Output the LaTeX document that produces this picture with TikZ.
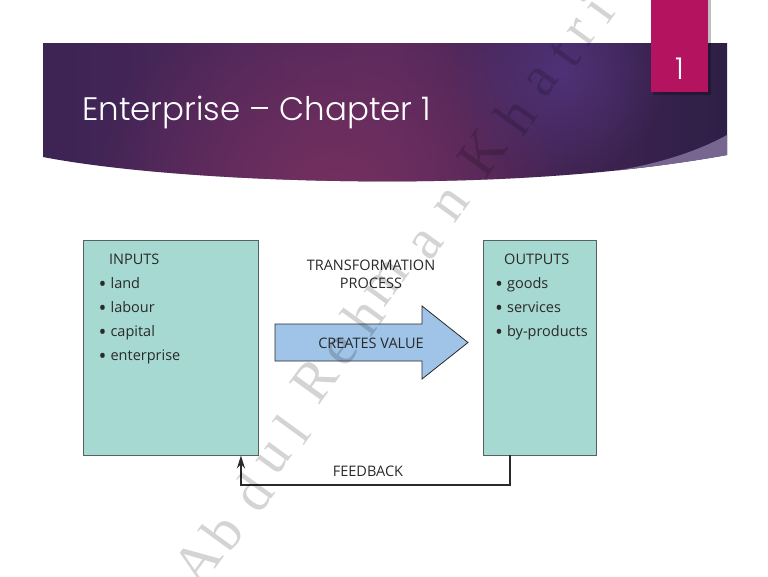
\documentclass[tikz,border=0pt]{standalone}
\usepackage{fontspec}
\setmainfont{Open Sans}
\newfontfamily\titlefont{Poppins Light}
\newfontfamily\markfont{Liberation Serif}
\usetikzlibrary{positioning,calc,arrows.meta,fadings}
\tikzfading[name=glowfade, inner color=transparent!0, outer color=transparent!100]
\definecolor{boxteal}{HTML}{A6D9D1}
\definecolor{boxline}{HTML}{56625F}
\definecolor{arrowblue}{HTML}{9FC4E7}
\definecolor{txtgray}{HTML}{2A2A2A}
\definecolor{tabpink}{HTML}{B3135F}
\definecolor{banleft}{HTML}{3C2454}
\definecolor{banmid}{HTML}{55295E}
\definecolor{banright}{HTML}{2E1F46}
\definecolor{banglow}{HTML}{76305F}
\definecolor{banviolet}{HTML}{4F3277}
\definecolor{banstrip}{HTML}{77668F}
\newcommand{\dotitem}{\raisebox{-3.4pt}{\fontsize{21}{18}\selectfont\textbullet}\hspace{4pt}}
\tikzset{x=1pt, y=-1pt, semithick,
  block/.style={draw=boxline, fill=boxteal, line width=0.9pt, inner sep=0pt, minimum height=215},
  lbl/.style={text=txtgray, inner sep=0pt, font=\fontsize{14.5}{18}\selectfont},
  item/.style={lbl, anchor=base west},
  valuearrow/.style={draw=txtgray, fill=arrowblue, line width=0.8pt},
  feedback/.style={draw=txtgray, line width=2pt, -{Stealth[length=13pt,width=8pt]}},
  headline/.style={text=white, inner sep=0pt, font=\titlefont\fontsize{32.5}{32.5}\selectfont},
  wmark/.style={text=black, text opacity=0.17, inner sep=0pt, rotate=54,
    font=\markfont\fontsize{57}{57}\selectfont}}

\begin{document}
\begin{tikzpicture}
\useasboundingbox (0,0) rectangle (768,576);
\fill[white] (0,0) rectangle (768,576);
% title banner
\begin{scope}
\clip (43,43) -- (727,43) -- (727,155) .. controls (600,178) and (460,183) .. (340,181)
  .. controls (220,179) and (110,170) .. (43,157) -- cycle;
\shade[left color=banleft, right color=banright, middle color=banmid] (43,43) rectangle (727,185);
\fill[banglow, path fading=glowfade] (330,205) circle (240);
\fill[banviolet, path fading=glowfade] (560,70) circle (110);
\fill[banstrip] (727,135) .. controls (685,158) and (630,172) .. (555,178)
  .. controls (625,175) and (685,164) .. (727,156) -- cycle;
\end{scope}
\node[headline, anchor=base west] (title) at (82,120) {Enterprise \textendash{} Chapter 1};
% page tab
\fill[black, opacity=0.25] (653,0) rectangle (711,95);
\fill[tabpink] (651,0) rectangle (708,92);
\node[headline, anchor=base, font=\titlefont\fontsize{30}{30}\selectfont] (pagenum) at (679.5,79) {1};

% the two boxes
\node[block, minimum width=175] (inputs) at (170.5,347.5) {};
\node[block, minimum width=113] (outputs) at (539.5,347.5) {};
\node[item] (inhead) at (109,264) {INPUTS};
\foreach \t [count=\i] in {land,labour,capital,enterprise}
  \node[item] (in\i) at (98.5,{264+24*\i}) {\dotitem\t};
\node[item] (outhead) at (504,264) {OUTPUTS};
\foreach \t [count=\i] in {goods,services,by-products}
  \node[item] (out\i) at (495,{264+24*\i}) {\dotitem\t};

% transformation arrow
\node[lbl, align=center] (process) at (371,274) {TRANSFORMATION\\PROCESS};
\draw[valuearrow] (275,324) -- (422,324) -- (422,306) -- (468,342.5) -- (422,379)
  -- (422,361) -- (275,361) -- cycle;
\node[lbl] (value) at (371,343) {CREATES VALUE};

% feedback loop
\coordinate (fbout) at ($(outputs.south west)+(27,0)$);
\coordinate (fbin) at ($(inputs.south east)+(-17.5,0)$);
\draw[feedback] (fbout) -- ++(0,30) -| (fbin);
\node[lbl] (fblabel) at (368,471) {FEEDBACK};

% watermark
\foreach \c/\x/\y [count=\k] in {A/197/562, b/222/532, d/252/493, u/275/458, l/292/428,
    R/315/380, e/342/352, h/363/315, m/387/283, a/427/245, n/452/205,
    K/482/153, h/515/115, a/542/82, t/565/55, r/582/33, i/597/8}
  \node[wmark] (mark\k) at (\x,\y) {\c};
\end{tikzpicture}
\end{document}
